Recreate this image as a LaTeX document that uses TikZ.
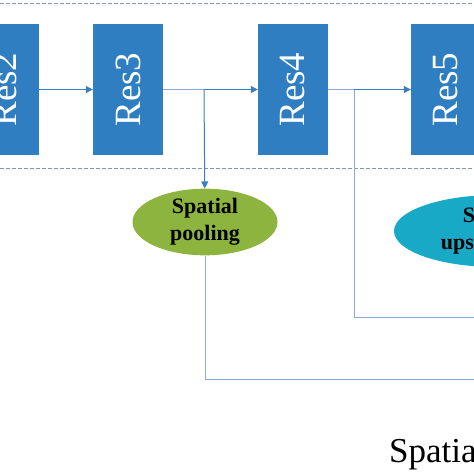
\documentclass[tikz,border=0pt]{standalone}
\usepackage{fontspec}
\setmainfont{Liberation Serif}
\usetikzlibrary{arrows.meta,shapes.geometric}
\definecolor{resblue}{HTML}{2E7EC1}
\definecolor{poolgreen}{HTML}{8CB43F}
\definecolor{upscyan}{HTML}{17A9C5}
\definecolor{linkblue}{HTML}{8EA9D8}
\definecolor{arrowblue}{HTML}{3A7DC0}
\definecolor{dashgray}{HTML}{8497B0}
\begin{document}
\begin{tikzpicture}[
    x=1pt, y=-1pt,
    res/.style={rectangle, fill=resblue, minimum width=70pt, minimum height=131pt, inner sep=0pt,
                text=white, font=\fontsize{37}{40}\selectfont},
    pool/.style={ellipse, fill=poolgreen, minimum width=145pt, minimum height=66pt, inner sep=0pt,
                 align=center, font=\bfseries\fontsize{22}{27}\selectfont},
    ups/.style={ellipse, fill=upscyan, minimum width=204pt, minimum height=72pt, inner sep=0pt,
                align=center, font=\bfseries\fontsize{22}{27}\selectfont},
    link/.style={draw=linkblue, line width=1pt},
    feed/.style={draw=arrowblue, line width=1pt, -{Triangle[length=7pt,width=7pt]}},
    band/.style={draw=dashgray, line width=0.9pt, dash pattern=on 4pt off 2pt}
]
\useasboundingbox (0,0) rectangle (474,474);
\clip (0,0) rectangle (474,474);

% ----- backbone -----
\draw[band] (0,3) -- (474,3);
\draw[band] (0,168) -- (474,168);

\node[res] (res2) at (4,89.5)   {\rotatebox{90}{Res2}};
\node[res] (res3) at (128,89.5) {\rotatebox{90}{Res3}};
\node[res] (res4) at (293,89.5) {\rotatebox{90}{Res4}};
\node[res] (res5) at (446,89.5) {\rotatebox{90}{Res5}};

\coordinate (b3) at (204,89.5);
\coordinate (b4) at (354,89.5);

% ----- branches -----
\node[pool] (pool) at (205,222) {Spatial\\pooling};
\node[ups]  (ups)  at (496,231) {Spatial\\upsampling};

\node[anchor=base west, inner sep=0pt, font=\fontsize{35}{38}\selectfont] (title) at (389,462) {Spatial};

\coordinate (c3) at (205,379);
\coordinate (e3) at (480,379);
\coordinate (c4) at (354,317);
\coordinate (e4) at (480,317);

% ----- links -----
\draw[feed] (res2) -- (res3);
\draw[link] (res3) -- (b3);
\draw[feed] (b3) -- (res4);
\draw[link] (res4) -- (b4);
\draw[feed] (b4) -- (res5);

\draw[feed] (b3) -- (pool);
\draw[link] (pool) -- (c3) -- (e3);
\draw[link] (b4) -- (c4) -- (e4);

\end{tikzpicture}
\end{document}
